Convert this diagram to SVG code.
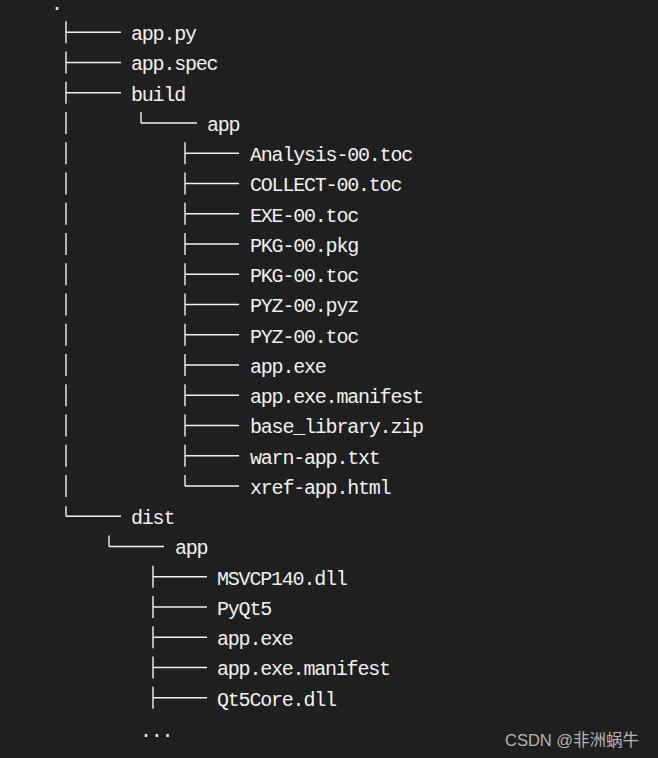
<svg xmlns="http://www.w3.org/2000/svg" width="658" height="758" viewBox="0 0 658 758">
<style>
.t{font-family:"Liberation Mono","DejaVu Sans Mono",monospace;font-size:20px;letter-spacing:-1.2px;fill:#f2f2f2}
.c line{stroke:#f2f2f2;stroke-width:1.4}
.wm{font-family:"Liberation Sans","Noto Sans CJK SC",sans-serif;font-size:16.5px;fill:#b4b4b4}
</style>
<rect width="658" height="758" fill="#1f1f1f"/>
<g id="connectors" class="c">
<!-- level 0 -->
<line x1="66" y1="21.3" x2="66" y2="43.3"/><line x1="66" y1="32.3" x2="121" y2="32.3"/>
<line x1="66" y1="51.5" x2="66" y2="73.5"/><line x1="66" y1="62.5" x2="121" y2="62.5"/>
<line x1="66" y1="81.8" x2="66" y2="103.8"/><line x1="66" y1="92.8" x2="121" y2="92.8"/>
<line x1="66" y1="112" x2="66" y2="134"/>
<line x1="66" y1="142.3" x2="66" y2="164.3"/>
<line x1="66" y1="172.5" x2="66" y2="194.5"/>
<line x1="66" y1="202.8" x2="66" y2="224.8"/>
<line x1="66" y1="233" x2="66" y2="255"/>
<line x1="66" y1="263.3" x2="66" y2="285.3"/>
<line x1="66" y1="293.5" x2="66" y2="315.5"/>
<line x1="66" y1="323.8" x2="66" y2="345.8"/>
<line x1="66" y1="354" x2="66" y2="376"/>
<line x1="66" y1="384.3" x2="66" y2="406.3"/>
<line x1="66" y1="414.5" x2="66" y2="436.5"/>
<line x1="66" y1="444.8" x2="66" y2="466.8"/>
<line x1="66" y1="475" x2="66" y2="497"/>
<line x1="66" y1="506.3" x2="66" y2="516.3"/><line x1="66" y1="516.3" x2="121" y2="516.3"/>
<!-- build/app -->
<line x1="141" y1="112" x2="141" y2="123"/><line x1="141" y1="123" x2="197" y2="123"/>
<!-- build/app children -->
<line x1="185" y1="142.3" x2="185" y2="164.3"/><line x1="185" y1="153.3" x2="239" y2="153.3"/>
<line x1="185" y1="172.5" x2="185" y2="194.5"/><line x1="185" y1="183.5" x2="239" y2="183.5"/>
<line x1="185" y1="202.8" x2="185" y2="224.8"/><line x1="185" y1="213.8" x2="239" y2="213.8"/>
<line x1="185" y1="233" x2="185" y2="255"/><line x1="185" y1="244" x2="239" y2="244"/>
<line x1="185" y1="263.3" x2="185" y2="285.3"/><line x1="185" y1="274.3" x2="239" y2="274.3"/>
<line x1="185" y1="293.5" x2="185" y2="315.5"/><line x1="185" y1="304.5" x2="239" y2="304.5"/>
<line x1="185" y1="323.8" x2="185" y2="345.8"/><line x1="185" y1="334.8" x2="239" y2="334.8"/>
<line x1="185" y1="354" x2="185" y2="376"/><line x1="185" y1="365" x2="239" y2="365"/>
<line x1="185" y1="384.3" x2="185" y2="406.3"/><line x1="185" y1="395.3" x2="239" y2="395.3"/>
<line x1="185" y1="414.5" x2="185" y2="436.5"/><line x1="185" y1="425.5" x2="239" y2="425.5"/>
<line x1="185" y1="444.8" x2="185" y2="466.8"/><line x1="185" y1="455.8" x2="239" y2="455.8"/>
<line x1="185" y1="475" x2="185" y2="486"/><line x1="185" y1="486" x2="239" y2="486"/>
<!-- dist/app -->
<line x1="109" y1="535.5" x2="109" y2="546.5"/><line x1="109" y1="546.5" x2="164" y2="546.5"/>
<!-- dist/app children -->
<line x1="153" y1="565.8" x2="153" y2="587.8"/><line x1="153" y1="576.8" x2="207" y2="576.8"/>
<line x1="153" y1="596" x2="153" y2="618"/><line x1="153" y1="607" x2="207" y2="607"/>
<line x1="153" y1="626.3" x2="153" y2="648.3"/><line x1="153" y1="637.3" x2="207" y2="637.3"/>
<line x1="153" y1="656.5" x2="153" y2="678.5"/><line x1="153" y1="667.5" x2="207" y2="667.5"/>
<line x1="153" y1="686.8" x2="153" y2="708.8"/><line x1="153" y1="697.8" x2="207" y2="697.8"/>
</g>
<g id="root"><text class="t" x="51" y="10">.</text></g>
<g id="app_py"><text class="t" x="131" y="40">app.py</text></g>
<g id="app_spec"><text class="t" x="131" y="70.3">app.spec</text></g>
<g id="build"><text class="t" x="131" y="100.5">build</text></g>
<g id="build_app"><text class="t" x="207" y="130.8">app</text></g>
<g id="analysis"><text class="t" x="250" y="161">Analysis-00.toc</text></g>
<g id="collect"><text class="t" x="250" y="191.3">COLLECT-00.toc</text></g>
<g id="exe_toc"><text class="t" x="250" y="221.5">EXE-00.toc</text></g>
<g id="pkg_pkg"><text class="t" x="250" y="251.8">PKG-00.pkg</text></g>
<g id="pkg_toc"><text class="t" x="250" y="282">PKG-00.toc</text></g>
<g id="pyz_pyz"><text class="t" x="250" y="312.3">PYZ-00.pyz</text></g>
<g id="pyz_toc"><text class="t" x="250" y="342.5">PYZ-00.toc</text></g>
<g id="build_app_exe"><text class="t" x="250" y="372.8">app.exe</text></g>
<g id="build_manifest"><text class="t" x="250" y="403">app.exe.manifest</text></g>
<g id="base_library"><text class="t" x="250" y="433.3">base_library.zip</text></g>
<g id="warn"><text class="t" x="250" y="463.5">warn-app.txt</text></g>
<g id="xref"><text class="t" x="250" y="493.8">xref-app.html</text></g>
<g id="dist"><text class="t" x="131" y="524">dist</text></g>
<g id="dist_app"><text class="t" x="175" y="554.3">app</text></g>
<g id="msvcp"><text class="t" x="217" y="584.5">MSVCP140.dll</text></g>
<g id="pyqt5"><text class="t" x="217" y="614.8">PyQt5</text></g>
<g id="dist_app_exe"><text class="t" x="217" y="645">app.exe</text></g>
<g id="dist_manifest"><text class="t" x="217" y="675.3">app.exe.manifest</text></g>
<g id="qt5core"><text class="t" x="217" y="705.5">Qt5Core.dll</text></g>
<g id="more"><text class="t" x="140" y="737">...</text></g>
<text class="wm" x="505" y="746">CSDN @非洲蜗牛</text>
</svg>
